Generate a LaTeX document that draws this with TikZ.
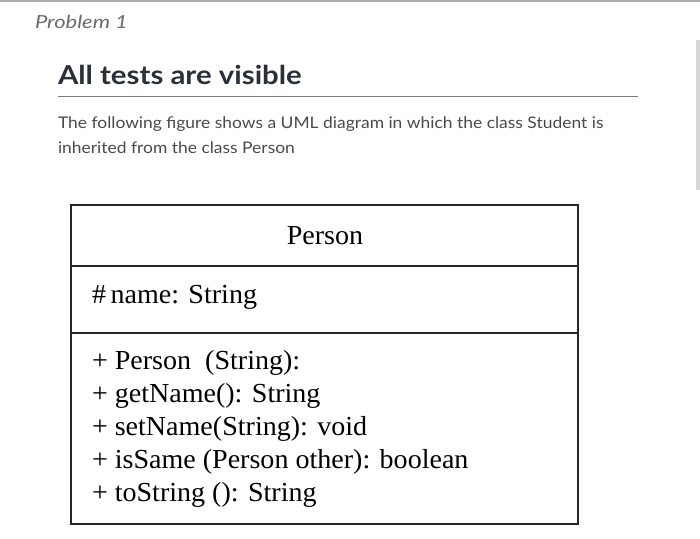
\documentclass[tikz,border=0pt]{standalone}
\usepackage{fontspec}
\setmainfont[FakeStretch=1.02]{Liberation Serif}
\newfontfamily\probfont[FakeStretch=1.22]{Lato}
\newfontfamily\titlefont[FakeStretch=1.13]{Lato}
\newfontfamily\parafont[FakeStretch=1.09]{Lato}
\definecolor{probgray}{HTML}{6B6B6B}
\definecolor{headdark}{HTML}{2B3038}
\definecolor{textgray}{HTML}{4A4A4A}
\definecolor{rulegray}{HTML}{7A7A7A}
\definecolor{framegray}{HTML}{B0B0B0}
\definecolor{scrollgray}{HTML}{D8D8D8}
\begin{document}
\begin{tikzpicture}[x=1pt,y=-1pt,
  txt/.style={anchor=base west,inner sep=0pt,outer sep=0pt},
  umltxt/.style={txt,font=\fontsize{27.5}{33}\selectfont},
  umlline/.style={line width=2pt,black!85}]
\useasboundingbox (0,0) rectangle (700,538);
\fill[white] (0,0) rectangle (700,538);
% page frame lines
\draw[framegray,line width=1.5pt] (0,1) -- (700,1);
\fill[scrollgray] (696,40) rectangle (700,190);
% header texts
\node[txt,font=\probfont\itshape\fontsize{18}{22}\selectfont,text=probgray] (prob) at (35,28) {Problem 1};
\node[txt,font=\titlefont\bfseries\fontsize{26}{30}\selectfont,text=headdark] (title) at (58,84) {All tests are visible};
\coordinate (ruleL) at (58,96);
\coordinate (ruleR) at (638,96);
\draw[rulegray,line width=1pt] (ruleL) -- (ruleR);
\node[txt,font=\parafont\fontsize{16}{20}\selectfont,text=textgray] (p1) at (58,128) {The following figure shows a UML diagram in which the class Student is};
\node[txt,font=\parafont\fontsize{16}{20}\selectfont,text=textgray] (p2) at (58,153) {inherited from the class Person};
% UML box
\coordinate (bTL) at (71,205);
\coordinate (bBR) at (578,524);
\coordinate (d1L) at (71,266);
\coordinate (d1R) at (578,266);
\coordinate (d2L) at (71,333);
\coordinate (d2R) at (578,333);
\draw[umlline] (bTL) rectangle (bBR);
\draw[umlline] (d1L) -- (d1R);
\draw[umlline] (d2L) -- (d2R);
\node[umltxt,anchor=base] (cname) at (325,244) {Person};
\node[umltxt] (attr) at (92,303) {\#\,name: String};
\node[umltxt] (m1) at (92,369) {+ Person\ \ (String):};
\node[umltxt] (m2) at (92,402) {+ getName(): String};
\node[umltxt] (m3) at (92,435) {+ setName(String): void};
\node[umltxt] (m4) at (92,468) {+ isSame (Person other): boolean};
\node[umltxt] (m5) at (92,501) {+ toString (): String};
\end{tikzpicture}
\end{document}
